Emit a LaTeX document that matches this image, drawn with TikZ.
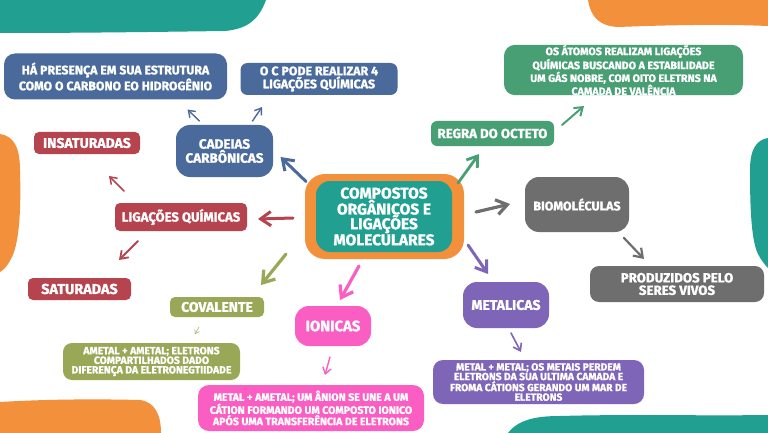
\documentclass[tikz,border=0pt]{standalone}
\usepackage{fontspec}
\setmainfont[BoldFeatures={FakeBold=1.3}]{Fira Sans}
\usetikzlibrary{arrows.meta}
\definecolor{cteal}{HTML}{219F91}
\definecolor{corange}{HTML}{F2903C}
\definecolor{cblue}{HTML}{4A6A9B}
\definecolor{cred}{HTML}{B5444F}
\definecolor{colive}{HTML}{99A857}
\definecolor{cpink}{HTML}{FB5EC3}
\definecolor{cgreen}{HTML}{479F73}
\definecolor{cgray}{HTML}{6E6E6E}
\definecolor{cpurple}{HTML}{7F65B8}
\tikzset{
  x=1pt,y=-1pt,
  box/.style={rectangle,rounded corners=7pt,inner sep=0pt,text=white,align=center},
  bigbox/.style={box,rounded corners=14pt},
  txt/.style n args={2}{font=\fontsize{#1}{#2}\selectfont\bfseries},
  arr/.style={line width=#1,line cap=round,-{Straight Barb[length=2.6*#1+2.5pt,width=3.6*#1+3.5pt,line width=#1]}},
  arr/.default=2pt
}
\begin{document}
\begin{tikzpicture}
\useasboundingbox (0,0) rectangle (768,433);
\fill[white] (0,0) rectangle (768,433);
% corner shapes
\fill[cteal] (0,0) -- (266,0) .. controls (258,22) and (245,29) .. (225,31) .. controls (150,32) and (80,33) .. (0,33) -- cycle;
\fill[corange] (588,0) .. controls (591,18) and (600,26) .. (618,27) .. controls (670,25) and (720,24) .. (768,26) -- (768,0) -- cycle;
\fill[corange] (0,134) .. controls (14,136) and (20,148) .. (20,170) .. controls (21,205) and (20,240) .. (12,257) .. controls (8,265) and (4,270) .. (0,272) -- cycle;
\fill[cteal] (768,138) .. controls (756,140) and (750,150) .. (750,170) .. controls (750,205) and (751,240) .. (758,254) .. controls (761,260) and (765,265) .. (768,268) -- cycle;
\fill[corange] (0,402) .. controls (50,399) and (100,399) .. (140,400) .. controls (155,402) and (161,415) .. (161,433) -- (0,433) -- cycle;
\fill[cteal] (508,433) .. controls (518,420) and (535,416) .. (560,416) .. controls (630,414) and (700,416) .. (768,415) -- (768,433) -- cycle;
% centre
\node[rectangle,rounded corners=20pt,fill=corange,minimum width=159pt,minimum height=85pt] (mainback) at (384.5,216.5) {};
\node[bigbox,fill=cteal,minimum width=136pt,minimum height=71pt,txt={15.5}{14.7}] (main) at (384,216.5) {COMPOSTOS\\ORGÂNICOS E\\LIGAÇÕES\\MOLECULARES};
% blue
\node[box,fill=cblue,minimum width=223pt,minimum height=46pt,rounded corners=11pt,txt={12.3}{11.5}] (pres) at (115.5,76.5) {HÁ PRESENÇA EM SUA ESTRUTURA\\COMO O CARBONO EO HIDROGÊNIO};
\node[box,fill=cblue,minimum width=157pt,minimum height=32pt,txt={12.4}{11.3}] (quatro) at (319,79) {O C PODE REALIZAR 4\\LIGAÇÕES QUÍMICAS};
\node[bigbox,fill=cblue,minimum width=97pt,minimum height=52pt,txt={13.5}{12.7}] (cad) at (224.5,151) {CADEIAS\\CARBÔNICAS};
% red
\node[box,fill=cred,minimum width=106pt,minimum height=22pt,rounded corners=5pt,txt={14}{14}] (insat) at (87,143) {INSATURADAS};
\node[box,fill=cred,minimum width=132pt,minimum height=28pt,rounded corners=5pt,txt={13.1}{13}] (lig) at (181,217) {LIGAÇÕES QUÍMICAS};
\node[box,fill=cred,minimum width=103pt,minimum height=22pt,rounded corners=5pt,txt={14.4}{14}] (sat) at (79.5,289) {SATURADAS};
% olive
\node[box,fill=colive,minimum width=94pt,minimum height=20pt,rounded corners=5pt,txt={13.9}{14}] (cov) at (217,307) {COVALENTE};
\node[box,fill=colive,minimum width=177pt,minimum height=37pt,rounded corners=9pt,txt={10.4}{9.6}] (amet) at (151.5,361.5) {AMETAL + AMETAL; ELETRONS\\COMPARTILHADOS DADO\\DIFERENÇA DA ELETRONEGTIIDADE};
% pink
\node[bigbox,fill=cpink,minimum width=76pt,minimum height=40pt,txt={14.9}{14}] (ion) at (333,326) {IONICAS};
\node[box,fill=cpink,minimum width=226pt,minimum height=46pt,rounded corners=11pt,txt={10.6}{9.7}] (mam) at (311,408) {METAL + AMETAL; UM ÂNION SE UNE A UM\\CÁTION FORMANDO UM COMPOSTO IONICO\\APÓS UMA TRANSFERÊNCIA DE ELETRONS};
% green
\node[box,fill=cgreen,minimum width=123pt,minimum height=25pt,rounded corners=6pt,txt={13.2}{13}] (reg) at (492.5,133.5) {REGRA DO OCTETO};
\node[box,fill=cgreen,minimum width=239pt,minimum height=50pt,rounded corners=11pt,txt={10.7}{10.3}] (ato) at (623.5,70) {OS ÁTOMOS  REALIZAM LIGAÇÕES\\QUÍMICAS BUSCANDO A ESTABILIDADE\\UM GÁS NOBRE, COM OITO ELETRNS NA\\CAMADA DE VALÊNCIA};
% gray
\node[bigbox,fill=cgray,minimum width=104pt,minimum height=55pt,txt={12.5}{12}] (bio) at (577,204.5) {BIOMOLÉCULAS};
\node[box,fill=cgray,minimum width=174pt,minimum height=36pt,rounded corners=9pt,txt={13.3}{12.5}] (prod) at (677,284) {PRODUZIDOS PELO\\SERES VIVOS};
% purple
\node[bigbox,fill=cpurple,minimum width=86pt,minimum height=46pt,txt={14}{12}] (met) at (506,305) {METALICAS};
\node[box,fill=cpurple,minimum width=211pt,minimum height=44pt,rounded corners=10pt,txt={10.3}{9.6}] (mm) at (538.5,382) {METAL + METAL;  OS METAIS PERDEM\\ELETRONS DA SUA ULTIMA CAMADA E\\FROMA CÁTIONS GERANDO UM MAR DE\\ELETRONS};
% connectors
\draw[arr=3pt,cblue] ([shift={(-78,-35)}]main.center) -- ([shift={(56,6)}]cad.center);
\draw[arr=1.4pt,cblue] ([shift={(-25,-30)}]cad.center) -- ([shift={(72,33)}]pres.center);
\draw[arr=1.4pt,cblue] ([shift={(28,-30)}]cad.center) -- ([shift={(-57,28)}]quatro.center);
\draw[arr=1.5pt,cred] ([shift={(-57,-26)}]lig.center) -- ([shift={(22,33)}]insat.center);
\draw[arr=3pt,cred] ([shift={(-91,1.5)}]main.center) -- ([shift={(77,2)}]lig.center);
\draw[arr=1.8pt,cred] ([shift={(-43,24)}]lig.center) -- ([shift={(39.5,-29)}]sat.center);
\draw[arr=3.2pt,colive] ([shift={(-98,37.5)}]main.center) -- ([shift={(44,-22)}]cov.center);
\draw[arr=0.5pt,colive] ([shift={(-18,20)}]cov.center) -- ([shift={(43.5,-27.5)}]amet.center);
\draw[arr=3.2pt,cpink] ([shift={(-25,49.5)}]main.center) -- ([shift={(7,-26)}]ion.center);
\draw[arr=1.4pt,cpink] ([shift={(-3,31)}]ion.center) -- ([shift={(14,-33)}]mam.center);
\draw[arr=2.8pt,cgreen] ([shift={(74,-33.5)}]main.center) -- ([shift={(-13.5,20.5)}]reg.center);
\draw[arr=2pt,cgreen] ([shift={(69.5,-8.5)}]reg.center) -- ([shift={(-39.5,36)}]ato.center);
\draw[arr=3.2pt,cgray] ([shift={(92,-4.5)}]main.center) -- ([shift={(-67,-0.5)}]bio.center);
\draw[arr=2.2pt,cgray] ([shift={(47,33.5)}]bio.center) -- ([shift={(-33,-25)}]prod.center);
\draw[arr=3pt,cpurple] ([shift={(84,28.5)}]main.center) -- ([shift={(-18,-31)}]met.center);
\draw[arr=1.6pt,cpurple] ([shift={(5,28)}]met.center) -- ([shift={(-17.5,-30)}]mm.center);
\end{tikzpicture}
\end{document}
